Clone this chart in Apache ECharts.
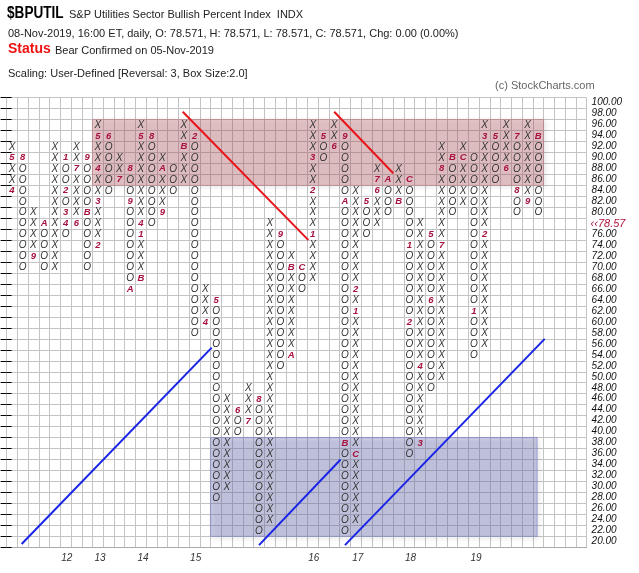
<!DOCTYPE html>
<html><head><meta charset="utf-8">
<script src="https://cdn.jsdelivr.net/npm/echarts@6/dist/echarts.min.js"></script>
<style>html,body{margin:0;padding:0;background:#fff}#c{width:639px;height:573px}</style>
</head><body><div id="c"></div>
<script>
// column type, low box, high box
const columns = [
['X',84,92],['O',70,90],['X',72,80],['O',70,78],['X',70,92],['O',76,90],['X',78,92],['O',70,90],['X',74,96],['O',84,94],
['X',86,90],['O',66,88],['X',68,96],['O',78,94],['X',80,90],['O',84,88],['X',86,96],['O',58,94],['X',60,66],['O',28,64],
['X',30,46],['O',40,44],['X',42,48],['O',22,46],['X',24,78],['O',52,76],['X',54,72],['O',66,70],['X',68,96],['O',90,94],
['X',92,96],['O',22,94],['X',24,84],['O',76,82],['X',78,88],['O',80,86],['X',82,88],['O',36,86],['X',38,78],['O',48,76],
['X',50,92],['O',80,90],['X',82,92],['O',54,90],['X',56,96],['O',86,94],['X',88,96],['O',80,94],['X',82,96],['O',80,94]
];
// month markers: column number, box value, label
const monthMarks = [
[1,84,'4'],[1,90,'5'],[2,90,'8'],[3,72,'9'],[4,78,'A'],[6,90,'1'],[6,84,'2'],[6,80,'3'],[6,78,'4'],
[7,78,'6'],[7,88,'7'],[8,90,'9'],[8,80,'B'],[9,74,'2'],[9,82,'3'],[9,88,'4'],[9,94,'5'],[10,94,'6'],[11,86,'7'],
[12,88,'8'],[12,82,'9'],[12,66,'A'],[13,68,'B'],[13,76,'1'],[13,78,'4'],[13,94,'5'],[14,94,'8'],[15,80,'9'],[15,88,'A'],
[17,92,'B'],[18,94,'2'],[19,60,'4'],[20,64,'5'],[22,44,'6'],[23,42,'7'],[24,46,'8'],[26,76,'9'],[27,54,'A'],[27,70,'B'],
[28,70,'C'],[29,76,'1'],[29,84,'2'],[29,90,'3'],[30,94,'5'],[31,92,'6'],[32,94,'9'],[32,82,'A'],[32,38,'B'],
[33,36,'C'],[33,62,'1'],[33,66,'2'],[34,82,'5'],[35,84,'6'],[35,86,'7'],[36,86,'A'],[37,82,'B'],[38,86,'C'],[38,74,'1'],
[38,60,'2'],[39,38,'3'],[39,52,'4'],[40,76,'5'],[40,64,'6'],[41,74,'7'],[41,88,'8'],[42,90,'B'],[43,90,'C'],[44,62,'1'],
[45,76,'2'],[45,94,'3'],[46,94,'5'],[47,88,'6'],[48,94,'7'],[48,84,'8'],[49,82,'9'],[50,94,'B']
];
const yearLabels = ['12','13','14','15','16','17','18','19'];
const yearPos = [5.6,8.7,12.7,17.6,28.6,32.7,37.6,43.7];
const lastValue = 78.57;
const redLines = [[[16.4,98.4],[28.1,75.0]],[[30.5,98.4],[36.0,87.2]]];
const blueLines = [[[1.4,19.6],[19.1,55.4]],[[23.5,19.4],[31.1,35.0]],[[31.5,19.4],[50.1,57.0]]];
const resistanceZone = {x0:8,x1:50,v0:86,v1:96};
const supportZone = {x0:19,x1:49.4,v0:22,v1:38};

const BOX=2, VMIN=20;
const yi = v => (v-VMIN)/BOX + 0.5;
const glyphs = [];
columns.forEach((c,i)=>{
  for(let v=c[1]; v<=c[2]; v+=BOX){
    const m = monthMarks.find(mm=>mm[0]===i+1 && mm[1]===v);
    glyphs.push([i+0.5, yi(v), m?m[2]:c[0], m?1:0]);
  }
});
const font = '"Liberation Sans", Arial, sans-serif';
const chart = echarts.init(document.getElementById('c'));
function zoneSeries(z, color, edge){
  return {type:'custom', silent:true, z:1,
    data:[[z.x0, yi(z.v0)-0.5, z.x1, yi(z.v1)+0.5]],
    renderItem:(p,api)=>{
      const a=api.coord([api.value(0),api.value(1)]), b=api.coord([api.value(2),api.value(3)]);
      return {type:'rect', shape:{x:a[0],y:b[1],width:b[0]-a[0],height:a[1]-b[1]},
        style:{fill:color, stroke:edge, lineWidth:1, shadowBlur:6, shadowColor:'rgba(0,0,0,0.25)', shadowOffsetX:2, shadowOffsetY:2}};
    }};
}
function lineSeries(seg,color){
  return {type:'line', z:5, symbol:'none', silent:true, lineStyle:{color, width:2},
    data: seg.map(p=>[p[0], yi(p[1])])};
}
const series = [
  zoneSeries(resistanceZone,'rgba(190,90,100,0.32)','rgba(190,90,100,0.35)'),
  zoneSeries(supportZone,'rgba(110,115,185,0.35)','rgba(110,115,200,0.5)'),
  {type:'custom', z:3, data:glyphs, renderItem:(p,api)=>{
    const pt=api.coord([api.value(0),api.value(1)]);
    const mark = api.value(3)===1;
    return {type:'text', x:pt[0], y:pt[1], style:{text:glyphs[p.dataIndex][2], align:'center', verticalAlign:'middle',
      font: (mark?'italic bold 9.5px ':'italic 10px ')+font, fill: mark?'#a8123e':'#333'}};
  }},
  {type:'custom', z:3, clip:false, data:yearPos.map((x,i)=>[x,0,i]), renderItem:(p,api)=>{
    const pt=api.coord([api.value(0),0]);
    return {type:'text', x:pt[0], y:pt[1]+11, style:{text:yearLabels[p.dataIndex], align:'center', verticalAlign:'middle', font:'italic 10px '+font, fill:'#333'}};
  }},
  {type:'custom', z:3, clip:false, data:[[54, yi(Math.floor(lastValue/BOX)*BOX)]], renderItem:(p,api)=>{
    const pt=api.coord([api.value(0),api.value(1)]);
    return {type:'text', x:pt[0]+4, y:pt[1], style:{text:'‹‹'+lastValue.toFixed(2), align:'left', verticalAlign:'middle', font:'italic 11px '+font, fill:'#b0103a'}};
  }}
];
redLines.forEach(s=>series.push(lineSeries(s,'#e8141a')));
blueLines.forEach(s=>series.push(lineSeries(s,'#1a24e6')));
chart.setOption({
  animation:false,
  grid:{left:6.6, right:52.4, top:97.5, bottom:25.7},
  xAxis:{type:'value', min:0, max:54, interval:1, axisLabel:{show:false}, axisTick:{show:false},
    axisLine:{show:true, lineStyle:{color:'#aaa'}}, splitLine:{show:true, lineStyle:{color:'#c4c4c4', width:1}}},
  yAxis:[
    {type:'value', position:'right', min:0, max:41, interval:1,
     axisLine:{show:false}, axisTick:{show:true, length:5, lineStyle:{color:'#000'}},
     splitLine:{show:true, lineStyle:{color:'#c4c4c4'}},
     axisLabel:{show:true, showMaxLabel:true, showMinLabel:true, margin:5, verticalAlign:'top',
       fontStyle:'italic', fontSize:10, fontFamily:'Liberation Sans', color:'#111',
       formatter:t=>{ const v=18+2*t; if(t<1||v===Math.floor(lastValue/BOX)*BOX) return ''; return v.toFixed(2);} }},
    {type:'value', position:'left', min:0, max:41, interval:1, axisLine:{show:false},
     axisTick:{show:true, length:6, lineStyle:{color:'#000'}}, axisLabel:{show:false}, splitLine:{show:false}}
  ],
  series,
  graphic:[
    {type:'text', left:7, top:6, scaleX:0.85, style:{text:'$BPUTIL', font:'bold 16px '+font, fill:'#000'}},
    {type:'text', left:69, top:9, style:{text:'S&P Utilities Sector Bullish Percent Index  INDX', font:'11px '+font, fill:'#222'}},
    {type:'text', left:8, top:28, style:{text:'08-Nov-2019, 16:00 ET, daily, O: 78.571, H: 78.571, L: 78.571, C: 78.571, Chg: 0.00 (0.00%)', font:'11px '+font, fill:'#222'}},
    {type:'text', left:8, top:42, style:{text:'Status', font:'bold 14px '+font, fill:'#ee1111'}},
    {type:'text', left:55, top:45, style:{text:'Bear Confirmed on 05-Nov-2019', font:'11px '+font, fill:'#222'}},
    {type:'text', left:8, top:68, style:{text:'Scaling: User-Defined [Reversal: 3, Box Size:2.0]', font:'11px '+font, fill:'#222'}},
    {type:'text', left:495, top:80, style:{text:'(c) StockCharts.com', font:'11px '+font, fill:'#666'}}
  ]
});
</script></body></html>
